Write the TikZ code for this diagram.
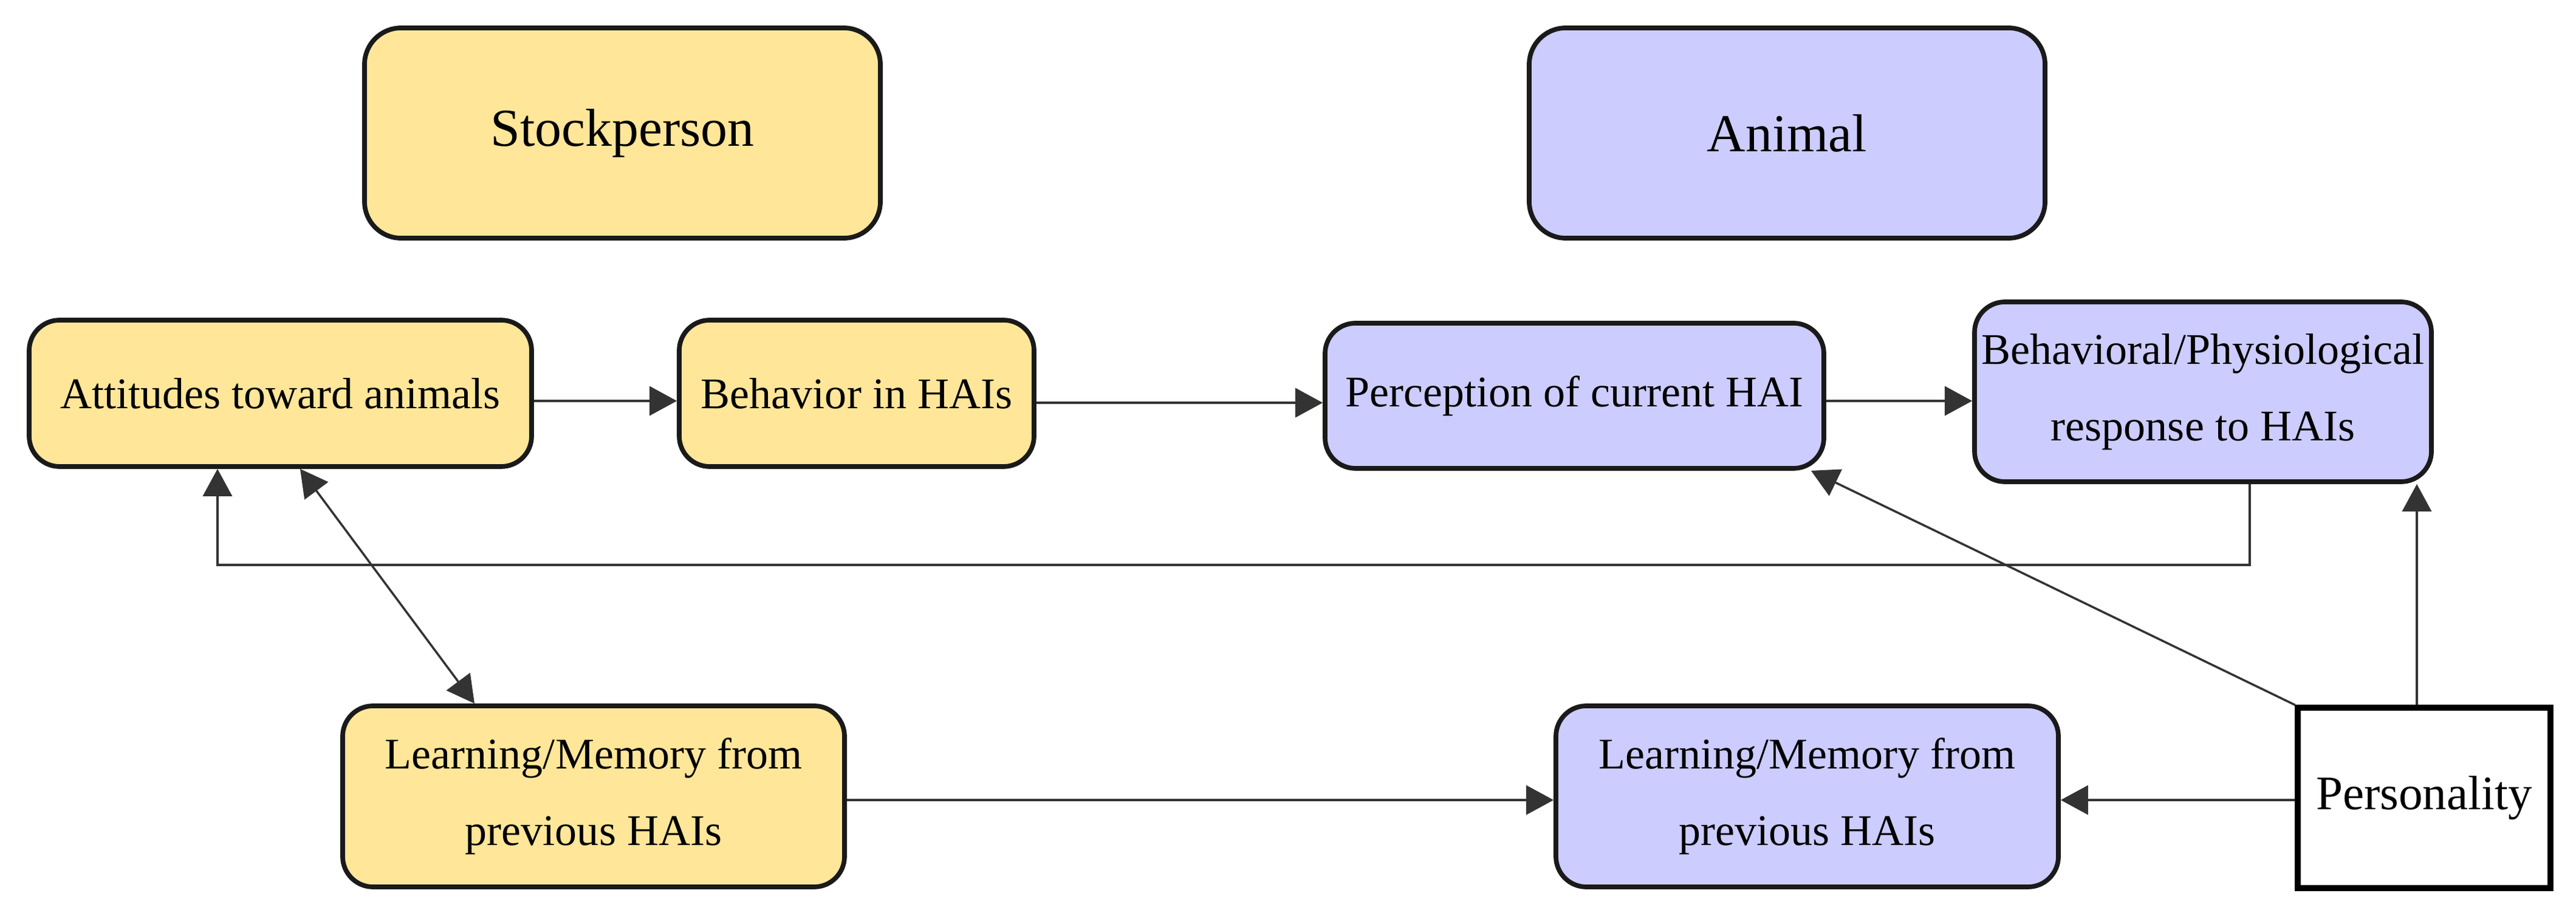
\documentclass[tikz,border=0pt]{standalone}
\usepackage{fontspec}
\setmainfont{Liberation Serif}
\usetikzlibrary{arrows.meta,calc}
\definecolor{yfill}{HTML}{FFE699}
\definecolor{bfill}{HTML}{CCCCFF}
\definecolor{edgec}{HTML}{1A1A1A}
\tikzset{
  box/.style={draw=edgec, line width=2.2pt, rounded corners=0.5cm, align=center, inner sep=0pt,
    font=\fontsize{20.5}{36}\selectfont},
  ybox/.style={box, fill=yfill},
  bbox/.style={box, fill=bfill},
  bigtext/.style={font=\fontsize{25}{30}\selectfont, rounded corners=0.6cm},
  tip/.tip={Triangle[length=0.45cm,width=0.48cm]},
  conn/.style={draw=black!80, line width=1pt, -tip},
}
\begin{document}
\begin{tikzpicture}
\useasboundingbox (0,0) rectangle (42.4,14.98);
% header boxes
\node[ybox, bigtext, minimum width=8.49cm, minimum height=3.46cm] (stock) at (10.245,12.79) {Stockperson};
\node[bbox, bigtext, minimum width=8.49cm, minimum height=3.46cm] (animal) at (29.415,12.79) {Animal};
% middle row
\node[ybox, minimum width=8.27cm, minimum height=2.41cm] (att) at (4.615,8.505) {Attitudes toward animals};
\node[ybox, minimum width=5.84cm, minimum height=2.41cm] (beh) at (14.10,8.505) {Behavior in HAIs};
\node[bbox, minimum width=8.21cm, minimum height=2.39cm] (perc) at (25.915,8.465) {Perception of current HAI};
\node[bbox, minimum width=7.52cm, minimum height=2.96cm] (resp) at (36.26,8.53) {Behavioral/Physiological\\response to HAIs};
% bottom row
\node[ybox, minimum width=8.26cm, minimum height=2.98cm] (learnY) at (9.77,1.87) {Learning/Memory from\\previous HAIs};
\node[bbox, minimum width=8.27cm, minimum height=2.98cm] (learnB) at (29.745,1.87) {Learning/Memory from\\previous HAIs};
\node[box, rounded corners=0pt, fill=white, draw=black, line width=2.6pt, font=\fontsize{22.5}{26}\selectfont,
  minimum width=4.16cm, minimum height=2.97cm] (pers) at (39.90,1.845) {Personality};
% helper coordinates
\coordinate (rowA) at (0,8.38);
\coordinate (rowB) at (0,8.35);
\coordinate (fbR) at (37.03,5.68);
\coordinate (fbL) at (3.58,5.68);
\coordinate (dA) at (4.94,0);
\coordinate (dB) at (7.81,0);
\coordinate (pv) at (39.78,0);
\coordinate (rowC) at (0,1.81);
\coordinate (percTip) at ($(perc.south east)+(-0.25,0)$);
% connectors
\draw[conn] (att.east |- rowA) -- (beh.west |- rowA);
\draw[conn] (beh.east |- rowB) -- (perc.west |- rowB);
\draw[conn] (perc.east |- rowA) -- (resp.west |- rowA);
\draw[conn] (resp.south -| fbR) -- (fbR) -- (fbL) -- (att.south -| fbL);
\draw[conn, tip-tip] (att.south -| dA) -- (learnY.north -| dB);
\draw[conn] (learnY.east |- rowC) -- (learnB.west |- rowC);
\draw[conn] (pers.west |- rowC) -- (learnB.east |- rowC);
\draw[conn] (pers.north west) -- (percTip);
\draw[conn] (pers.north -| pv) -- (resp.south -| pv);
\end{tikzpicture}
\end{document}
